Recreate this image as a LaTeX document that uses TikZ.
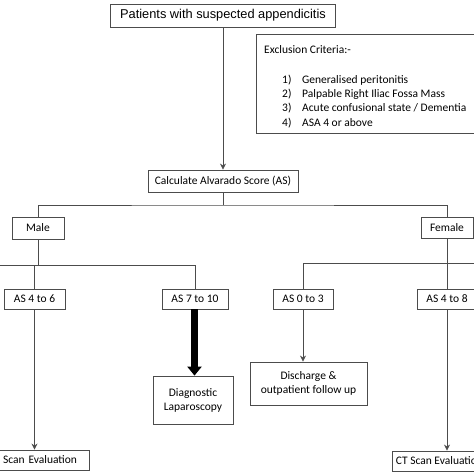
\documentclass[tikz,border=0pt]{standalone}
\usepackage{fontspec}
\setmainfont{Carlito}
\newfontfamily\arialfont{Liberation Sans}
\usetikzlibrary{
		arrows.meta,
		positioning
	}
\tikzset{
		>=Stealth,
		box/.style={draw=black!70, line width=0.8pt, rectangle, inner sep=2pt,
			font=\fontsize{11.5}{14}\selectfont, align=center},
		crit/.style={anchor=west, inner sep=0pt, font=\fontsize{11.5}{14}\selectfont},
		link/.style={draw=black!70, line width=0.8pt},
		thin arrow/.style={link, -{Stealth[length=6pt,width=6pt]}},
		thick arrow/.style={draw=black, line width=7pt, -{Triangle[length=9pt,width=14pt]}}
	}

\begin{document}
\begin{tikzpicture}[x=1pt,y=-1pt]
        \useasboundingbox (0,0) rectangle (474,474);
        \clip (0,0) rectangle (474,474);

        % top of the chart
        \node[box, minimum width=225pt, minimum height=23pt,
              font=\arialfont\fontsize{12.8}{15}\selectfont] (patients) at (223,15.5)
              {Patients with suspected appendicitis};
        \node[box, minimum width=150pt, minimum height=22pt] (calc) at (223,181)
              {Calculate Alvarado Score (AS)};

        % the exclusion criteria (the box runs over the right edge)
        \node[box, anchor=north west, minimum width=240pt, minimum height=99pt] (excl) at (256,34) {};
        \node[crit] (exhead) at (264,50) {Exclusion Criteria:-};
        \node[crit] (n1) at (282,80) {1)};
        \node[crit] (n2) at (282,94) {2)};
        \node[crit] (n3) at (282,108) {3)};
        \node[crit] (n4) at (282,123) {4)};
        \node[crit] (c1) at (302,80) {Generalised peritonitis};
        \node[crit] (c2) at (302,94) {Palpable Right Iliac Fossa Mass};
        \node[crit] (c3) at (302,108) {Acute confusional state / Dementia};
        \node[crit] (c4) at (302,123) {ASA 4 or above};

        % male and female
        \node[box, minimum width=52pt, minimum height=22pt] (male) at (38,228) {Male};
        \node[box, minimum width=52pt, minimum height=21pt] (female) at (447,227.5) {Female};

        % the score groups
        \node[box, minimum width=61pt, minimum height=20pt] (as46) at (34.5,299) {AS 4 to 6};
        \node[box, minimum width=66pt, minimum height=20pt] (as710) at (195,299) {AS 7 to 10};
        \node[box, minimum width=60pt, minimum height=20pt] (as03) at (303,299) {AS 0 to 3};
        \node[box, minimum width=60pt, minimum height=20pt] (as48) at (447,299) {AS 4 to 8};

        % the outcomes
        \node[box, text width=77pt, align=right, inner xsep=12pt, minimum height=20pt] (scan) at (38.5,460)
              {Scan Evaluation};
        \node[box, minimum width=80pt, minimum height=48pt] (diag) at (193,400)
              {Diagnostic\\Laparoscopy};
        \node[box, minimum width=117pt, minimum height=43pt] (disch) at (308.5,383.5)
              {Discharge \&\\outpatient follow up};
        \node[box, anchor=west, inner xsep=3.5pt, minimum height=20pt] (ctscan) at (392,461)
              {CT Scan Evaluation};

        % the branch points
        \coordinate (split) at (223,205);
        \coordinate (mleft) at (0,265);
        \coordinate (fright) at (480,263);

        % draw the links
        \draw[thin arrow] (patients.south) -- (calc.north);
        \draw[link] (calc.south) -- (split);
        \draw[link] (male.north) |- (split) -| (female.north);
        \draw[link] (male.south) -- (male.south |- mleft);
        \draw[link] (mleft) -| (as710.north);
        \draw[link] (as46.north) -- (as46.north |- mleft);
        \draw[link] (female.south) -- (as48.north);
        \draw[link] (as03.north) |- (fright);

        % draw the arrows
        \draw[thin arrow] (as46.south) -- (as46.south |- scan.north);
        \draw[thick arrow] (as710.south -| 194.5,0) -- (194.5,0 |- diag.north);
        \draw[thin arrow] (as03.south) -- (as03.south |- disch.north);
        \draw[thin arrow] (as48.south) -- (as48.south |- ctscan.north);

    \end{tikzpicture}
\end{document}
